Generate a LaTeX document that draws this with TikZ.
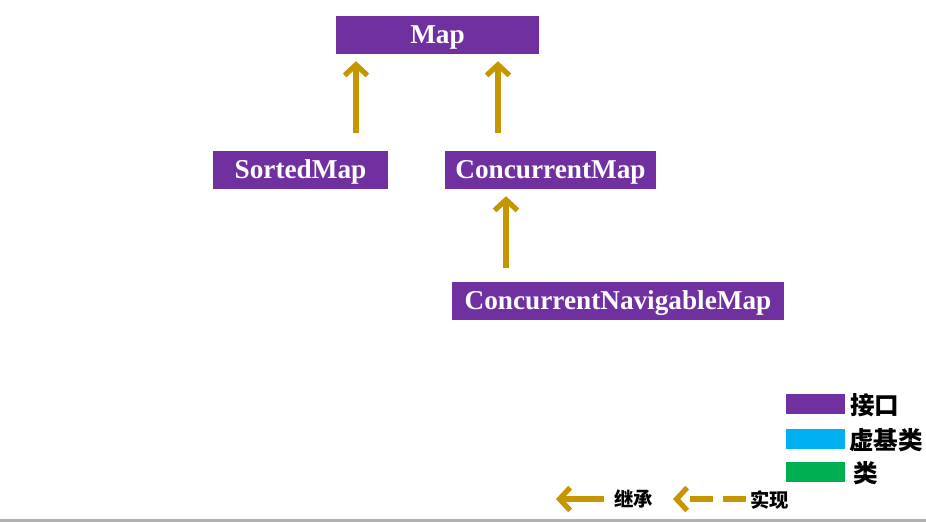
\documentclass[tikz,border=0pt]{standalone}
\usepackage{fontspec}
\setmainfont{Liberation Serif}
\newfontfamily\cjk{Noto Sans CJK SC}
\usepackage{tikz}
\usetikzlibrary{arrows.meta}
\definecolor{ifacePurple}{HTML}{7030A0}
\definecolor{absBlue}{HTML}{00B0F0}
\definecolor{classGreen}{HTML}{00B050}
\definecolor{arrowGold}{HTML}{C79500}
\tikzset{
    iface/.style={fill=ifacePurple, text=white, font=\fontsize{15.5}{18}\selectfont\bfseries, inner xsep=0pt, inner ysep=1.8pt, text height=14pt, text depth=3.9pt},
    inherit/.style={-{Straight Barb[length=6pt,width=13pt,line width=3pt]}, line width=3.2pt, arrowGold},
    legend/.style={font=\fontsize{14}{16}\selectfont\bfseries\cjk, anchor=west, inner sep=0pt}
}
\begin{document}
\begin{tikzpicture}[x=0.02cm, y=-0.02cm]
        \useasboundingbox (0,0) rectangle (926,522);
        \draw[gray!60, line width=1.2pt] (0,520.5) -- (926,520.5);

        \node[iface, minimum width=4.06cm] (map) at (437.5,35) {Map};
        \node[iface, minimum width=3.5cm] (sorted) at (300.5,170) {SortedMap};
        \node[iface, minimum width=4.22cm] (conc) at (550.5,170) {ConcurrentMap};
        \node[iface, minimum width=6.64cm] (cnav) at (618,301) {ConcurrentNavigableMap};

        % inheritance arrows
        \coordinate (s1) at (356,133);
        \coordinate (c1) at (498,133);
        \coordinate (n1) at (506,268);
        \draw[inherit, shorten >=7*0.02cm] (s1) -- (map.south -| s1);
        \draw[inherit, shorten >=7*0.02cm] (c1) -- (map.south -| c1);
        \draw[inherit, shorten >=7*0.02cm] (n1) -- (conc.south -| n1);

        % legend
        \node[fill=ifacePurple, minimum width=1.18cm, minimum height=0.4cm, inner sep=0pt] (lg1) at (815.5,404) {};
        \node[fill=absBlue, minimum width=1.18cm, minimum height=0.4cm, inner sep=0pt] (lg2) at (815.5,438.5) {};
        \node[fill=classGreen, minimum width=1.18cm, minimum height=0.4cm, inner sep=0pt] (lg3) at (815.5,471.5) {};
        \node[legend] (lt1) at (850,405) {接口};
        \node[legend] (lt2) at (849,440) {虚基类};
        \node[legend] (lt3) at (853,473) {类};

        \coordinate (a1) at (604,499);
        \coordinate (a2) at (556,499);
        \node[legend, font=\fontsize{11}{13}\selectfont\bfseries\cjk] (jc) at (614,499) {继承};
        \draw[inherit] (a1) -- (a2);
        \coordinate (b1) at (746,499);
        \coordinate (b2) at (673,499);
        \node[legend, font=\fontsize{11}{13}\selectfont\bfseries\cjk] (sx) at (750,500) {实现};
        \draw[inherit, dash pattern=on 13pt off 6pt] (b1) -- (b2);
\end{tikzpicture}
\end{document}
